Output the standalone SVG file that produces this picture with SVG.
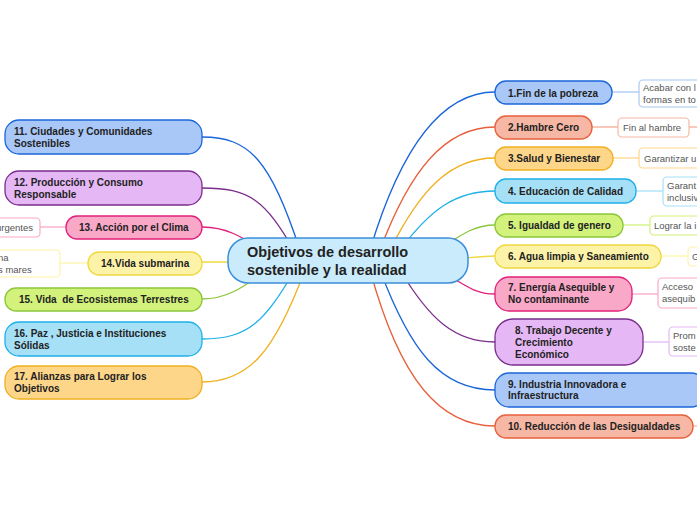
<svg xmlns="http://www.w3.org/2000/svg" width="697" height="520" viewBox="0 0 697 520">
<style>
text{font-family:"Liberation Sans",Arial,sans-serif;font-size:9.5px;fill:#222}
.b{font-weight:bold;font-size:10px}
.s{fill:#fff;stroke-width:1.2}
.sub{fill:#555}
path{fill:none;stroke-width:1.3}
.n{stroke-width:1.3}
</style>
<rect width="697" height="520" fill="#fff"/>
<g id="connectors">
<path d="M370 250 C400 150 440 92 495 92" stroke="#1a66d9"/>
<path d="M380 250 C410 170 445 127 495 127" stroke="#e8603c"/>
<path d="M390 250 C420 190 450 158 495 158" stroke="#f0b020"/>
<path d="M400 250 C430 210 455 191 495 191" stroke="#1eb0e8"/>
<path d="M430 255 C455 240 470 225 495 225" stroke="#8cc63c"/>
<path d="M440 260 C470 258 480 256 495 256" stroke="#f0d840"/>
<path d="M430 265 C460 280 470 294 495 294" stroke="#e0207a"/>
<path d="M400 270 C430 320 455 342 495 342" stroke="#7a2e8c"/>
<path d="M380 270 C410 350 440 390 495 390" stroke="#1a66d9"/>
<path d="M370 270 C400 380 440 426 495 426" stroke="#e8603c"/>
<path d="M612 92 H639" stroke="#a8c8f0"/>
<path d="M592 127 H618 M689 127 H697" stroke="#f6b7a4"/>
<path d="M613 158 H639" stroke="#fdd68a"/>
<path d="M636 191 H663" stroke="#a6e0f7"/>
<path d="M623 225 H650" stroke="#d2f27c"/>
<path d="M661 256 H688" stroke="#fdf3a8"/>
<path d="M632 294 H658" stroke="#f9a8c8"/>
<path d="M643 342 H669" stroke="#e5b8f5"/>
<path d="M693 426 H697" stroke="#f6b7a4"/>
<path d="M300 250 C270 160 250 137 202 137" stroke="#1a66d9"/>
<path d="M295 252 C265 200 250 188 202 188" stroke="#7a2e8c"/>
<path d="M270 255 C240 235 225 227 202 227" stroke="#e0207a"/>
<path d="M250 262 H202" stroke="#f0d840"/>
<path d="M270 268 C240 290 225 299 202 299" stroke="#8cc63c"/>
<path d="M295 270 C265 320 250 339 202 339" stroke="#1eb0e8"/>
<path d="M305 270 C275 350 250 382 202 382" stroke="#f0b020"/>
<path d="M40 227 H66" stroke="#f9a8c8"/>
<path d="M60 263 H88" stroke="#fdf3a8"/>
</g>
<g id="center"><rect x="228" y="238" width="240" height="45" rx="20" fill="#c9ebfb" stroke="#3b8fd9" stroke-width="1.5"/>
<text x="247" y="257" style="font-size:14.5px;font-weight:bold">Objetivos de desarrollo</text>
<text x="247" y="275" style="font-size:14.5px;font-weight:bold">sostenible y la realidad</text></g>
<g id="n1"><rect x="495" y="81" width="117" height="23" rx="11" fill="#a9c8f7" stroke="#1a66d9" class="n"/><text x="508" y="97" class="b">1.Fin de la pobreza</text>
<rect x="639" y="80" width="70" height="27" rx="4" class="s" stroke="#a8c8f0"/><text x="643" y="91" class="sub">Acabar con l</text><text x="643" y="103" class="sub">formas en to</text></g>
<g id="n2"><rect x="495" y="116" width="97" height="23" rx="11" fill="#f6b7a4" stroke="#e8603c" class="n"/><text x="508" y="131" class="b">2.Hambre Cero</text>
<rect x="618" y="118" width="71" height="19" rx="4" class="s" stroke="#f6b7a4"/><text x="623" y="131" class="sub">Fin al hambre</text></g>
<g id="n3"><rect x="495" y="147" width="118" height="23" rx="11" fill="#fdd68a" stroke="#f0b020" class="n"/><text x="508" y="162" class="b">3.Salud y Bienestar</text>
<rect x="639" y="148" width="70" height="20" rx="4" class="s" stroke="#fdd68a"/><text x="644" y="162" class="sub">Garantizar u</text></g>
<g id="n4"><rect x="495" y="179" width="141" height="24" rx="11" fill="#a6e0f7" stroke="#1eb0e8" class="n"/><text x="508" y="195" class="b">4. Educación de Calidad</text>
<rect x="663" y="177" width="50" height="29" rx="4" class="s" stroke="#a6e0f7"/><text x="667" y="189" class="sub">Garant</text><text x="667" y="201" class="sub">inclusiv</text></g>
<g id="n5"><rect x="495" y="214" width="128" height="23" rx="11" fill="#d2f27c" stroke="#8cc63c" class="n"/><text x="508" y="229" class="b">5. Igualdad de genero</text>
<rect x="650" y="216" width="60" height="19" rx="4" class="s" stroke="#d2f27c"/><text x="654" y="229" class="sub">Lograr la i</text></g>
<g id="n6"><rect x="495" y="245" width="166" height="23" rx="11" fill="#fdf3a8" stroke="#f0d840" class="n"/><text x="508" y="260" class="b">6. Agua limpia y Saneamiento</text>
<rect x="688" y="247" width="30" height="19" rx="4" class="s" stroke="#fdf3a8"/><text x="692" y="260" class="sub">G</text></g>
<g id="n7"><rect x="495" y="277" width="137" height="34" rx="14" fill="#f9a8c8" stroke="#e0207a" class="n"/><text x="508" y="291" class="b">7. Energía Asequible y</text><text x="508" y="303" class="b">No contaminante</text>
<rect x="658" y="278" width="50" height="30" rx="4" class="s" stroke="#f9a8c8"/><text x="662" y="290" class="sub">Acceso</text><text x="662" y="302" class="sub">asequib</text></g>
<g id="n8"><rect x="495" y="319" width="148" height="46" rx="18" fill="#e5b8f5" stroke="#7a2e8c" class="n"/><text x="515" y="334" class="b">8. Trabajo Decente y</text><text x="515" y="346" class="b">Crecimiento</text><text x="515" y="358" class="b">Económico</text>
<rect x="669" y="327" width="40" height="29" rx="4" class="s" stroke="#e5b8f5"/><text x="673" y="339" class="sub">Prom</text><text x="673" y="351" class="sub">soste</text></g>
<g id="n9"><rect x="495" y="373" width="210" height="34" rx="14" fill="#a9c8f7" stroke="#1a66d9" class="n"/><text x="508" y="388" class="b">9. Industria Innovadora e</text><text x="508" y="399" class="b">Infraestructura</text></g>
<g id="n10"><rect x="495" y="415" width="198" height="23" rx="11" fill="#f6b7a4" stroke="#e8603c" class="n"/><text x="508" y="430" class="b">10. Reducción de las Desigualdades</text></g>
<g id="n11"><rect x="5" y="120" width="197" height="34" rx="14" fill="#a9c8f7" stroke="#1a66d9" class="n"/><text x="14" y="135" class="b">11. Ciudades y Comunidades</text><text x="14" y="147" class="b">Sostenibles</text></g>
<g id="n12"><rect x="5" y="171" width="197" height="34" rx="14" fill="#e5b8f5" stroke="#7a2e8c" class="n"/><text x="14" y="186" class="b">12. Producción y Consumo</text><text x="14" y="198" class="b">Responsable</text></g>
<g id="n13"><rect x="66" y="216" width="136" height="23" rx="11" fill="#f9a8c8" stroke="#e0207a" class="n"/><text x="79" y="231" class="b">13. Acción por el Clima</text>
<rect x="-30" y="218" width="70" height="19" rx="4" class="s" stroke="#f9a8c8"/><text x="-4" y="231" class="sub">urgentes</text></g>
<g id="n14"><rect x="88" y="252" width="114" height="23" rx="11" fill="#fdf3a8" stroke="#f0d840" class="n"/><text x="101" y="267" class="b">14.Vida submarina</text>
<rect x="-30" y="250" width="90" height="27" rx="4" class="s" stroke="#fdf3a8"/><text x="-2" y="261" class="sub">na</text><text x="-2" y="273" class="sub">s mares</text></g>
<g id="n15"><rect x="5" y="288" width="197" height="23" rx="11" fill="#d2f27c" stroke="#8cc63c" class="n"/><text x="19" y="303" class="b" xml:space="preserve">15. Vida  de Ecosistemas Terrestres</text></g>
<g id="n16"><rect x="5" y="322" width="197" height="34" rx="14" fill="#a6e0f7" stroke="#1eb0e8" class="n"/><text x="14" y="337" class="b">16. Paz , Justicia e Instituciones</text><text x="14" y="349" class="b">Sólidas</text></g>
<g id="n17"><rect x="5" y="366" width="197" height="33" rx="14" fill="#fdd68a" stroke="#f0b020" class="n"/><text x="14" y="380" class="b">17. Alianzas para Lograr los</text><text x="14" y="392" class="b">Objetivos</text></g>
</svg>
